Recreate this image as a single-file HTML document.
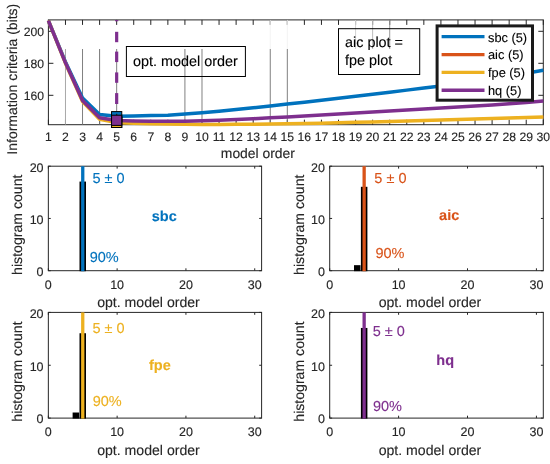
<!DOCTYPE html>
<html lang="en"><head><meta charset="utf-8"><title>Model order selection</title>
<style>html,body{margin:0;padding:0;background:#fff;overflow:hidden}body{width:550px;height:464px}svg text{white-space:pre;text-rendering:geometricPrecision;stroke-width:0.12px}</style></head>
<body>
<svg width="550" height="464" viewBox="0 0 550 464" style="display:block">
<rect x="0" y="0" width="550" height="464" fill="#fff"/>
<defs><clipPath id="c1"><rect x="46.40" y="18.40" width="498.90" height="108.80"/></clipPath></defs>
<g stroke="#262626" stroke-width="1" fill="none">
<rect x="48.40" y="19.90" width="494.90" height="104.80"/>
<line x1="48.40" y1="124.70" x2="48.40" y2="119.70"/>
<line x1="48.40" y1="19.90" x2="48.40" y2="24.90"/>
<line x1="65.47" y1="124.70" x2="65.47" y2="119.70"/>
<line x1="65.47" y1="19.90" x2="65.47" y2="24.90"/>
<line x1="82.53" y1="124.70" x2="82.53" y2="119.70"/>
<line x1="82.53" y1="19.90" x2="82.53" y2="24.90"/>
<line x1="99.60" y1="124.70" x2="99.60" y2="119.70"/>
<line x1="99.60" y1="19.90" x2="99.60" y2="24.90"/>
<line x1="116.66" y1="124.70" x2="116.66" y2="119.70"/>
<line x1="116.66" y1="19.90" x2="116.66" y2="24.90"/>
<line x1="133.73" y1="124.70" x2="133.73" y2="119.70"/>
<line x1="133.73" y1="19.90" x2="133.73" y2="24.90"/>
<line x1="150.79" y1="124.70" x2="150.79" y2="119.70"/>
<line x1="150.79" y1="19.90" x2="150.79" y2="24.90"/>
<line x1="167.86" y1="124.70" x2="167.86" y2="119.70"/>
<line x1="167.86" y1="19.90" x2="167.86" y2="24.90"/>
<line x1="184.92" y1="124.70" x2="184.92" y2="119.70"/>
<line x1="184.92" y1="19.90" x2="184.92" y2="24.90"/>
<line x1="201.99" y1="124.70" x2="201.99" y2="119.70"/>
<line x1="201.99" y1="19.90" x2="201.99" y2="24.90"/>
<line x1="219.06" y1="124.70" x2="219.06" y2="119.70"/>
<line x1="219.06" y1="19.90" x2="219.06" y2="24.90"/>
<line x1="236.12" y1="124.70" x2="236.12" y2="119.70"/>
<line x1="236.12" y1="19.90" x2="236.12" y2="24.90"/>
<line x1="253.19" y1="124.70" x2="253.19" y2="119.70"/>
<line x1="253.19" y1="19.90" x2="253.19" y2="24.90"/>
<line x1="270.25" y1="124.70" x2="270.25" y2="119.70"/>
<line x1="270.25" y1="19.90" x2="270.25" y2="24.90"/>
<line x1="287.32" y1="124.70" x2="287.32" y2="119.70"/>
<line x1="287.32" y1="19.90" x2="287.32" y2="24.90"/>
<line x1="304.38" y1="124.70" x2="304.38" y2="119.70"/>
<line x1="304.38" y1="19.90" x2="304.38" y2="24.90"/>
<line x1="321.45" y1="124.70" x2="321.45" y2="119.70"/>
<line x1="321.45" y1="19.90" x2="321.45" y2="24.90"/>
<line x1="338.51" y1="124.70" x2="338.51" y2="119.70"/>
<line x1="338.51" y1="19.90" x2="338.51" y2="24.90"/>
<line x1="355.58" y1="124.70" x2="355.58" y2="119.70"/>
<line x1="355.58" y1="19.90" x2="355.58" y2="24.90"/>
<line x1="372.64" y1="124.70" x2="372.64" y2="119.70"/>
<line x1="372.64" y1="19.90" x2="372.64" y2="24.90"/>
<line x1="389.71" y1="124.70" x2="389.71" y2="119.70"/>
<line x1="389.71" y1="19.90" x2="389.71" y2="24.90"/>
<line x1="406.78" y1="124.70" x2="406.78" y2="119.70"/>
<line x1="406.78" y1="19.90" x2="406.78" y2="24.90"/>
<line x1="423.84" y1="124.70" x2="423.84" y2="119.70"/>
<line x1="423.84" y1="19.90" x2="423.84" y2="24.90"/>
<line x1="440.91" y1="124.70" x2="440.91" y2="119.70"/>
<line x1="440.91" y1="19.90" x2="440.91" y2="24.90"/>
<line x1="457.97" y1="124.70" x2="457.97" y2="119.70"/>
<line x1="457.97" y1="19.90" x2="457.97" y2="24.90"/>
<line x1="475.04" y1="124.70" x2="475.04" y2="119.70"/>
<line x1="475.04" y1="19.90" x2="475.04" y2="24.90"/>
<line x1="492.10" y1="124.70" x2="492.10" y2="119.70"/>
<line x1="492.10" y1="19.90" x2="492.10" y2="24.90"/>
<line x1="509.17" y1="124.70" x2="509.17" y2="119.70"/>
<line x1="509.17" y1="19.90" x2="509.17" y2="24.90"/>
<line x1="526.23" y1="124.70" x2="526.23" y2="119.70"/>
<line x1="526.23" y1="19.90" x2="526.23" y2="24.90"/>
<line x1="543.30" y1="124.70" x2="543.30" y2="119.70"/>
<line x1="543.30" y1="19.90" x2="543.30" y2="24.90"/>
<line x1="48.40" y1="95.30" x2="53.40" y2="95.30"/>
<line x1="543.30" y1="95.30" x2="538.30" y2="95.30"/>
<line x1="48.40" y1="63.30" x2="53.40" y2="63.30"/>
<line x1="543.30" y1="63.30" x2="538.30" y2="63.30"/>
<line x1="48.40" y1="31.30" x2="53.40" y2="31.30"/>
<line x1="543.30" y1="31.30" x2="538.30" y2="31.30"/>
</g>
<g stroke-width="1">
<line x1="65.47" y1="49" x2="65.47" y2="124.70" stroke="#a8a8a8"/>
<line x1="82.53" y1="49" x2="82.53" y2="124.70" stroke="#808080"/>
<line x1="99.60" y1="49" x2="99.60" y2="124.70" stroke="#777"/>
<line x1="116.66" y1="49" x2="116.66" y2="124.70" stroke="#808080"/>
<line x1="184.92" y1="49" x2="184.92" y2="124.70" stroke="#808080"/>
<line x1="201.99" y1="49" x2="201.99" y2="124.70" stroke="#808080"/>
<line x1="270.25" y1="49" x2="270.25" y2="124.70" stroke="#808080"/>
<line x1="287.32" y1="49" x2="287.32" y2="124.70" stroke="#808080"/>
<line x1="355.58" y1="19.90" x2="355.58" y2="49" stroke="#d2d2d2"/>
<line x1="372.64" y1="19.90" x2="372.64" y2="49" stroke="#bcbcbc"/>
<line x1="389.71" y1="19.90" x2="389.71" y2="49" stroke="#999"/>
<line x1="270.25" y1="19.90" x2="270.25" y2="49" stroke="#f3f3f3"/>
<line x1="287.32" y1="19.90" x2="287.32" y2="49" stroke="#f3f3f3"/>
</g>
<g clip-path="url(#c1)">
<polyline points="48.40,20.60 65.47,62.00 82.53,98.00 99.60,114.50 116.66,116.20 133.73,116.03 150.79,115.54 167.86,115.13 184.92,114.05 201.99,112.73 219.06,111.23 236.12,109.59 253.19,107.83 270.25,105.99 287.32,104.09 304.38,102.15 321.45,100.18 338.51,98.19 355.58,96.20 372.64,94.19 389.71,92.16 406.78,90.12 423.84,88.03 440.91,85.89 457.97,83.67 475.04,81.34 492.10,78.87 509.17,76.22 526.23,73.35 543.30,70.22" fill="none" stroke="#0072BD" stroke-width="3.5" stroke-linejoin="round"/>
<polyline points="48.40,20.60 65.47,63.20 82.53,101.50 99.60,119.30 116.66,122.50 133.73,123.23 150.79,123.70 167.86,124.05 184.92,124.28 201.99,124.40 219.06,124.43 236.12,124.37 253.19,124.24 270.25,124.04 287.32,123.79 304.38,123.48 321.45,123.13 338.51,122.75 355.58,122.34 372.64,121.90 389.71,121.44 406.78,120.97 423.84,120.49 440.91,120.00 457.97,119.51 475.04,119.01 492.10,118.51 509.17,118.00 526.23,117.50 543.30,116.99" fill="none" stroke="#D95319" stroke-width="1.9" stroke-linejoin="round"/>
<polyline points="48.40,20.60 65.47,63.20 82.53,101.50 99.60,119.30 116.66,122.50 133.73,123.23 150.79,123.70 167.86,124.05 184.92,124.28 201.99,124.40 219.06,124.43 236.12,124.37 253.19,124.24 270.25,124.04 287.32,123.79 304.38,123.48 321.45,123.13 338.51,122.75 355.58,122.34 372.64,121.90 389.71,121.44 406.78,120.97 423.84,120.49 440.91,120.00 457.97,119.51 475.04,119.01 492.10,118.51 509.17,118.00 526.23,117.50 543.30,116.99" fill="none" stroke="#EDB120" stroke-width="3.5" stroke-linejoin="round"/>
<polyline points="48.40,20.60 65.47,62.80 82.53,100.50 99.60,117.80 116.66,120.40 133.73,121.01 150.79,121.32 167.86,121.35 184.92,121.15 201.99,120.75 219.06,120.20 236.12,119.51 253.19,118.73 270.25,117.87 287.32,116.95 304.38,115.99 321.45,115.02 338.51,114.03 355.58,113.04 372.64,112.05 389.71,111.07 406.78,110.08 423.84,109.10 440.91,108.11 457.97,107.09 475.04,106.04 492.10,104.94 509.17,103.76 526.23,102.48 543.30,101.08" fill="none" stroke="#7E2F8E" stroke-width="3.5" stroke-linejoin="round"/>
</g>
<rect x="111.56" y="111.60" width="10.20" height="10.20" fill="#0072BD" stroke="#000" stroke-width="1"/>
<rect x="111.56" y="117.30" width="10.20" height="10.20" fill="#D95319" stroke="#000" stroke-width="1"/>
<rect x="111.56" y="117.30" width="10.20" height="10.20" fill="#EDB120" stroke="#000" stroke-width="1"/>
<line x1="116.66" y1="113.8" x2="116.66" y2="116.6" stroke="#222" stroke-width="1.2"/>
<rect x="111.56" y="115.20" width="10.20" height="10.20" fill="#7E2F8E" stroke="#000" stroke-width="1"/>
<line x1="116.66" y1="20.00" x2="116.66" y2="21.30" stroke="#7E2F8E" stroke-width="3.2"/>
<line x1="116.66" y1="31.80" x2="116.66" y2="42.20" stroke="#7E2F8E" stroke-width="3.2"/>
<line x1="116.66" y1="51.60" x2="116.66" y2="62.10" stroke="#7E2F8E" stroke-width="3.2"/>
<line x1="116.66" y1="72.40" x2="116.66" y2="82.80" stroke="#7E2F8E" stroke-width="3.2"/>
<line x1="116.66" y1="93.10" x2="116.66" y2="104.00" stroke="#7E2F8E" stroke-width="3.2"/>
<g font-family="Liberation Sans, Arial, Helvetica, sans-serif" font-size="12.2" fill="#262626" stroke="#262626">
<text x="48.40" y="141.1" text-anchor="middle">1</text>
<text x="65.47" y="141.1" text-anchor="middle">2</text>
<text x="82.53" y="141.1" text-anchor="middle">3</text>
<text x="99.60" y="141.1" text-anchor="middle">4</text>
<text x="116.66" y="141.1" text-anchor="middle">5</text>
<text x="133.73" y="141.1" text-anchor="middle">6</text>
<text x="150.79" y="141.1" text-anchor="middle">7</text>
<text x="167.86" y="141.1" text-anchor="middle">8</text>
<text x="184.92" y="141.1" text-anchor="middle">9</text>
<text x="201.99" y="141.1" text-anchor="middle">10</text>
<text x="219.06" y="141.1" text-anchor="middle">11</text>
<text x="236.12" y="141.1" text-anchor="middle">12</text>
<text x="253.19" y="141.1" text-anchor="middle">13</text>
<text x="270.25" y="141.1" text-anchor="middle">14</text>
<text x="287.32" y="141.1" text-anchor="middle">15</text>
<text x="304.38" y="141.1" text-anchor="middle">16</text>
<text x="321.45" y="141.1" text-anchor="middle">17</text>
<text x="338.51" y="141.1" text-anchor="middle">18</text>
<text x="355.58" y="141.1" text-anchor="middle">19</text>
<text x="372.64" y="141.1" text-anchor="middle">20</text>
<text x="389.71" y="141.1" text-anchor="middle">21</text>
<text x="406.78" y="141.1" text-anchor="middle">22</text>
<text x="423.84" y="141.1" text-anchor="middle">23</text>
<text x="440.91" y="141.1" text-anchor="middle">24</text>
<text x="457.97" y="141.1" text-anchor="middle">25</text>
<text x="475.04" y="141.1" text-anchor="middle">26</text>
<text x="492.10" y="141.1" text-anchor="middle">27</text>
<text x="509.17" y="141.1" text-anchor="middle">28</text>
<text x="526.23" y="141.1" text-anchor="middle">29</text>
<text x="543.30" y="141.1" text-anchor="middle">30</text>
<text x="44" y="100.30" text-anchor="end">160</text>
<text x="44" y="68.30" text-anchor="end">180</text>
<text x="44" y="36.30" text-anchor="end">200</text>
</g>
<text font-family="Liberation Sans, Arial, Helvetica, sans-serif" font-size="13.9" fill="#262626" stroke="#262626" x="257.9" y="158" text-anchor="middle" >model order</text>
<text font-family="Liberation Sans, Arial, Helvetica, sans-serif" font-size="14" fill="#262626" stroke="#262626" transform="translate(17.3,79.2) rotate(-90)" text-anchor="middle" >Information criteria (bits)</text>
<rect x="126.4" y="46.5" width="119" height="30" fill="none" stroke="#000" stroke-width="1"/>
<text font-family="Liberation Sans, Arial, Helvetica, sans-serif" font-size="14.4" fill="#000" stroke="#000" x="133" y="65.5">opt. model order</text>
<rect x="338.5" y="28.7" width="81.2" height="45.8" fill="none" stroke="#000" stroke-width="1"/>
<text font-family="Liberation Sans, Arial, Helvetica, sans-serif" font-size="14.4" fill="#000" stroke="#000" x="345" y="47.3">aic plot =</text>
<text font-family="Liberation Sans, Arial, Helvetica, sans-serif" font-size="14.4" fill="#000" stroke="#000" x="345" y="65.4">fpe plot</text>
<rect x="437.1" y="25.9" width="95.4" height="74.3" fill="#fff" stroke="#1a1a1a" stroke-width="3"/>
<line x1="441.6" y1="36.70" x2="484.5" y2="36.70" stroke="#0072BD" stroke-width="3.3"/>
<text font-family="Liberation Sans, Arial, Helvetica, sans-serif" font-size="12.8" fill="#000" stroke="#000" x="488" y="41.60">sbc (5)</text>
<line x1="441.6" y1="54.55" x2="484.5" y2="54.55" stroke="#D95319" stroke-width="3.3"/>
<text font-family="Liberation Sans, Arial, Helvetica, sans-serif" font-size="12.8" fill="#000" stroke="#000" x="488" y="59.45">aic (5)</text>
<line x1="441.6" y1="72.40" x2="484.5" y2="72.40" stroke="#EDB120" stroke-width="3.3"/>
<text font-family="Liberation Sans, Arial, Helvetica, sans-serif" font-size="12.8" fill="#000" stroke="#000" x="488" y="77.30">fpe (5)</text>
<line x1="441.6" y1="90.25" x2="484.5" y2="90.25" stroke="#7E2F8E" stroke-width="3.3"/>
<text font-family="Liberation Sans, Arial, Helvetica, sans-serif" font-size="12.8" fill="#000" stroke="#000" x="488" y="95.15">hq (5)</text>
<g stroke="#262626" stroke-width="1" fill="none">
<rect x="48.35" y="166.20" width="213.25" height="104.50"/>
<line x1="48.35" y1="270.70" x2="48.35" y2="268.30"/>
<line x1="48.35" y1="166.20" x2="48.35" y2="168.60"/>
<line x1="117.14" y1="270.70" x2="117.14" y2="268.30"/>
<line x1="117.14" y1="166.20" x2="117.14" y2="168.60"/>
<line x1="185.93" y1="270.70" x2="185.93" y2="268.30"/>
<line x1="185.93" y1="166.20" x2="185.93" y2="168.60"/>
<line x1="254.72" y1="270.70" x2="254.72" y2="268.30"/>
<line x1="254.72" y1="166.20" x2="254.72" y2="168.60"/>
<line x1="48.35" y1="270.70" x2="50.75" y2="270.70"/>
<line x1="261.60" y1="270.70" x2="259.20" y2="270.70"/>
<line x1="48.35" y1="218.45" x2="50.75" y2="218.45"/>
<line x1="261.60" y1="218.45" x2="259.20" y2="218.45"/>
<line x1="48.35" y1="166.20" x2="50.75" y2="166.20"/>
<line x1="261.60" y1="166.20" x2="259.20" y2="166.20"/>
</g>
<rect x="79.50" y="181.57" width="6.50" height="89.62" fill="#000"/>
<line x1="82.75" y1="166.20" x2="82.75" y2="271.20" stroke="#0072BD" stroke-width="3.3"/>
<g font-family="Liberation Sans, Arial, Helvetica, sans-serif" font-size="12.5" fill="#262626" stroke="#262626">
<text x="48.35" y="288.50" text-anchor="middle">0</text>
<text x="117.14" y="288.50" text-anchor="middle">10</text>
<text x="185.93" y="288.50" text-anchor="middle">20</text>
<text x="254.72" y="288.50" text-anchor="middle">30</text>
<text x="43.55" y="276.00" text-anchor="end">0</text>
<text x="43.55" y="223.75" text-anchor="end">10</text>
<text x="43.55" y="171.50" text-anchor="end">20</text>
</g>
<text font-family="Liberation Sans, Arial, Helvetica, sans-serif" font-size="14.1" fill="#262626" stroke="#262626" x="148.48" y="307.10" text-anchor="middle" >opt. model order</text>
<text font-family="Liberation Sans, Arial, Helvetica, sans-serif" font-size="14.1" fill="#262626" stroke="#262626" transform="translate(22.15,224.75) rotate(-90)" text-anchor="middle" >histogram count</text>
<text font-family="Liberation Sans, Arial, Helvetica, sans-serif" font-size="14.5" fill="#0072BD" stroke="#0072BD" x="92.50" y="183.20">5 ± 0</text>
<text font-family="Liberation Sans, Arial, Helvetica, sans-serif" font-size="14.5" fill="#0072BD" stroke="#0072BD" x="89.70" y="261.60">90%</text>
<text font-family="Liberation Sans, Arial, Helvetica, sans-serif" font-size="14.5" font-weight="bold" fill="#0072BD" stroke="#0072BD" x="151.80" y="221.40">sbc</text>
<g stroke="#262626" stroke-width="1" fill="none">
<rect x="329.70" y="166.20" width="213.60" height="104.50"/>
<line x1="329.70" y1="270.70" x2="329.70" y2="268.30"/>
<line x1="329.70" y1="166.20" x2="329.70" y2="168.60"/>
<line x1="398.60" y1="270.70" x2="398.60" y2="268.30"/>
<line x1="398.60" y1="166.20" x2="398.60" y2="168.60"/>
<line x1="467.51" y1="270.70" x2="467.51" y2="268.30"/>
<line x1="467.51" y1="166.20" x2="467.51" y2="168.60"/>
<line x1="536.41" y1="270.70" x2="536.41" y2="268.30"/>
<line x1="536.41" y1="166.20" x2="536.41" y2="168.60"/>
<line x1="329.70" y1="270.70" x2="332.10" y2="270.70"/>
<line x1="543.30" y1="270.70" x2="540.90" y2="270.70"/>
<line x1="329.70" y1="218.45" x2="332.10" y2="218.45"/>
<line x1="543.30" y1="218.45" x2="540.90" y2="218.45"/>
<line x1="329.70" y1="166.20" x2="332.10" y2="166.20"/>
<line x1="543.30" y1="166.20" x2="540.90" y2="166.20"/>
</g>
<rect x="354.01" y="265.17" width="6.50" height="6.02" fill="#000"/>
<rect x="360.90" y="186.80" width="6.50" height="84.40" fill="#000"/>
<line x1="364.15" y1="166.20" x2="364.15" y2="271.20" stroke="#D95319" stroke-width="3.3"/>
<g font-family="Liberation Sans, Arial, Helvetica, sans-serif" font-size="12.5" fill="#262626" stroke="#262626">
<text x="329.70" y="288.50" text-anchor="middle">0</text>
<text x="398.60" y="288.50" text-anchor="middle">10</text>
<text x="467.51" y="288.50" text-anchor="middle">20</text>
<text x="536.41" y="288.50" text-anchor="middle">30</text>
<text x="324.90" y="276.00" text-anchor="end">0</text>
<text x="324.90" y="223.75" text-anchor="end">10</text>
<text x="324.90" y="171.50" text-anchor="end">20</text>
</g>
<text font-family="Liberation Sans, Arial, Helvetica, sans-serif" font-size="14.1" fill="#262626" stroke="#262626" x="430.00" y="307.10" text-anchor="middle" >opt. model order</text>
<text font-family="Liberation Sans, Arial, Helvetica, sans-serif" font-size="14.1" fill="#262626" stroke="#262626" transform="translate(303.50,224.75) rotate(-90)" text-anchor="middle" >histogram count</text>
<text font-family="Liberation Sans, Arial, Helvetica, sans-serif" font-size="14.5" fill="#D95319" stroke="#D95319" x="374.30" y="182.90">5 ± 0</text>
<text font-family="Liberation Sans, Arial, Helvetica, sans-serif" font-size="14.5" fill="#D95319" stroke="#D95319" x="375.40" y="257.50">90%</text>
<text font-family="Liberation Sans, Arial, Helvetica, sans-serif" font-size="14.5" font-weight="bold" fill="#D95319" stroke="#D95319" x="439.10" y="219.70">aic</text>
<g stroke="#262626" stroke-width="1" fill="none">
<rect x="48.35" y="312.40" width="213.25" height="105.70"/>
<line x1="48.35" y1="418.10" x2="48.35" y2="415.70"/>
<line x1="48.35" y1="312.40" x2="48.35" y2="314.80"/>
<line x1="117.14" y1="418.10" x2="117.14" y2="415.70"/>
<line x1="117.14" y1="312.40" x2="117.14" y2="314.80"/>
<line x1="185.93" y1="418.10" x2="185.93" y2="415.70"/>
<line x1="185.93" y1="312.40" x2="185.93" y2="314.80"/>
<line x1="254.72" y1="418.10" x2="254.72" y2="415.70"/>
<line x1="254.72" y1="312.40" x2="254.72" y2="314.80"/>
<line x1="48.35" y1="418.10" x2="50.75" y2="418.10"/>
<line x1="261.60" y1="418.10" x2="259.20" y2="418.10"/>
<line x1="48.35" y1="365.25" x2="50.75" y2="365.25"/>
<line x1="261.60" y1="365.25" x2="259.20" y2="365.25"/>
<line x1="48.35" y1="312.40" x2="50.75" y2="312.40"/>
<line x1="261.60" y1="312.40" x2="259.20" y2="312.40"/>
</g>
<rect x="72.62" y="412.51" width="6.50" height="6.09" fill="#000"/>
<rect x="79.50" y="333.24" width="6.50" height="85.36" fill="#000"/>
<line x1="82.75" y1="312.40" x2="82.75" y2="418.60" stroke="#EDB120" stroke-width="3.3"/>
<g font-family="Liberation Sans, Arial, Helvetica, sans-serif" font-size="12.5" fill="#262626" stroke="#262626">
<text x="48.35" y="435.90" text-anchor="middle">0</text>
<text x="117.14" y="435.90" text-anchor="middle">10</text>
<text x="185.93" y="435.90" text-anchor="middle">20</text>
<text x="254.72" y="435.90" text-anchor="middle">30</text>
<text x="43.55" y="423.40" text-anchor="end">0</text>
<text x="43.55" y="370.55" text-anchor="end">10</text>
<text x="43.55" y="317.70" text-anchor="end">20</text>
</g>
<text font-family="Liberation Sans, Arial, Helvetica, sans-serif" font-size="14.1" fill="#262626" stroke="#262626" x="148.48" y="454.50" text-anchor="middle" >opt. model order</text>
<text font-family="Liberation Sans, Arial, Helvetica, sans-serif" font-size="14.1" fill="#262626" stroke="#262626" transform="translate(22.15,371.55) rotate(-90)" text-anchor="middle" >histogram count</text>
<text font-family="Liberation Sans, Arial, Helvetica, sans-serif" font-size="14.5" fill="#EDB120" stroke="#EDB120" x="92.40" y="332.70">5 ± 0</text>
<text font-family="Liberation Sans, Arial, Helvetica, sans-serif" font-size="14.5" fill="#EDB120" stroke="#EDB120" x="92.70" y="405.70">90%</text>
<text font-family="Liberation Sans, Arial, Helvetica, sans-serif" font-size="14.5" font-weight="bold" fill="#EDB120" stroke="#EDB120" x="149.00" y="370.10">fpe</text>
<g stroke="#262626" stroke-width="1" fill="none">
<rect x="329.70" y="312.40" width="213.60" height="105.70"/>
<line x1="329.70" y1="418.10" x2="329.70" y2="415.70"/>
<line x1="329.70" y1="312.40" x2="329.70" y2="314.80"/>
<line x1="398.60" y1="418.10" x2="398.60" y2="415.70"/>
<line x1="398.60" y1="312.40" x2="398.60" y2="314.80"/>
<line x1="467.51" y1="418.10" x2="467.51" y2="415.70"/>
<line x1="467.51" y1="312.40" x2="467.51" y2="314.80"/>
<line x1="536.41" y1="418.10" x2="536.41" y2="415.70"/>
<line x1="536.41" y1="312.40" x2="536.41" y2="314.80"/>
<line x1="329.70" y1="418.10" x2="332.10" y2="418.10"/>
<line x1="543.30" y1="418.10" x2="540.90" y2="418.10"/>
<line x1="329.70" y1="365.25" x2="332.10" y2="365.25"/>
<line x1="543.30" y1="365.25" x2="540.90" y2="365.25"/>
<line x1="329.70" y1="312.40" x2="332.10" y2="312.40"/>
<line x1="543.30" y1="312.40" x2="540.90" y2="312.40"/>
</g>
<rect x="360.90" y="327.95" width="6.50" height="90.65" fill="#000"/>
<line x1="364.15" y1="312.40" x2="364.15" y2="418.60" stroke="#7E2F8E" stroke-width="3.3"/>
<g font-family="Liberation Sans, Arial, Helvetica, sans-serif" font-size="12.5" fill="#262626" stroke="#262626">
<text x="329.70" y="435.90" text-anchor="middle">0</text>
<text x="398.60" y="435.90" text-anchor="middle">10</text>
<text x="467.51" y="435.90" text-anchor="middle">20</text>
<text x="536.41" y="435.90" text-anchor="middle">30</text>
<text x="324.90" y="423.40" text-anchor="end">0</text>
<text x="324.90" y="370.55" text-anchor="end">10</text>
<text x="324.90" y="317.70" text-anchor="end">20</text>
</g>
<text font-family="Liberation Sans, Arial, Helvetica, sans-serif" font-size="14.1" fill="#262626" stroke="#262626" x="430.00" y="454.50" text-anchor="middle" >opt. model order</text>
<text font-family="Liberation Sans, Arial, Helvetica, sans-serif" font-size="14.1" fill="#262626" stroke="#262626" transform="translate(303.50,371.55) rotate(-90)" text-anchor="middle" >histogram count</text>
<text font-family="Liberation Sans, Arial, Helvetica, sans-serif" font-size="14.5" fill="#7E2F8E" stroke="#7E2F8E" x="372.70" y="335.90">5 ± 0</text>
<text font-family="Liberation Sans, Arial, Helvetica, sans-serif" font-size="14.5" fill="#7E2F8E" stroke="#7E2F8E" x="372.90" y="410.50">90%</text>
<text font-family="Liberation Sans, Arial, Helvetica, sans-serif" font-size="14.5" font-weight="bold" fill="#7E2F8E" stroke="#7E2F8E" x="436.30" y="365.40">hq</text>
</svg>
</body></html>
